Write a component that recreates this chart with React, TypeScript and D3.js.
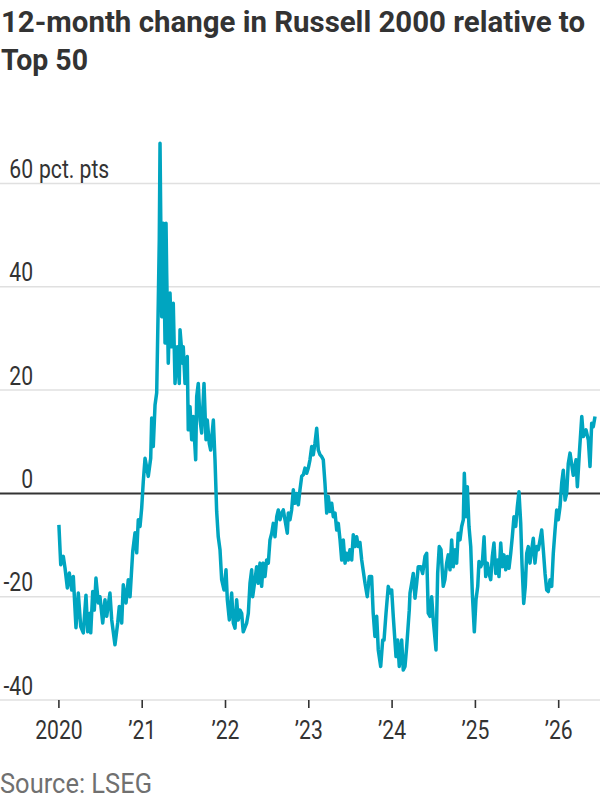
import React from "react";
import * as d3 from "d3";

const titleLines = ["12-month change in Russell 2000 relative to", "Top 50"];
const titleWidths = [584, 87];
const yTicks = [60, 40, 20, 0, -20, -40];
const yUnit = "pct. pts";
const xTicks = [2020, 2021, 2022, 2023, 2024, 2025, 2026];
const xTickLabels = ["2020", "’21", "’22", "’23", "’24", "’25", "’26"];
const sourceNote = "Source: LSEG";

// [decimal year, pct. pts]
const s2020 = [
  [2020.0, -6.1], [2020.022, -13.8], [2020.053, -12.2], [2020.073, -14.4], [2020.101, -18.3],
  [2020.125, -15.4], [2020.154, -18.7], [2020.173, -16.1], [2020.205, -26.0], [2020.233, -19.3],
  [2020.262, -25.8], [2020.293, -27.0], [2020.325, -19.7], [2020.346, -26.8], [2020.373, -23.2],
  [2020.382, -27.0], [2020.406, -19.0], [2020.425, -22.6], [2020.445, -16.4], [2020.473, -21.2],
  [2020.493, -20.0], [2020.526, -25.1], [2020.553, -20.6], [2020.574, -23.8], [2020.613, -19.3],
  [2020.634, -24.5], [2020.673, -29.3], [2020.706, -25.1], [2020.725, -21.9], [2020.754, -25.1],
  [2020.773, -17.7], [2020.806, -21.2], [2020.833, -16.7], [2020.854, -20.0], [2020.886, -11.3],
  [2020.914, -7.6], [2020.934, -11.5], [2020.953, -5.1], [2020.974, -6.4], [2020.994, -2.8],
];
const s2021 = [
  [2021.013, 2.3], [2021.034, 6.8], [2021.073, 3.3], [2021.102, 6.8], [2021.114, 14.6],
  [2021.133, 9.1], [2021.154, 17.1], [2021.174, 19.5], [2021.193, 36.9], [2021.205, 49.1],
  [2021.214, 67.8], [2021.234, 34.2], [2021.253, 52.3], [2021.274, 29.1], [2021.286, 52.3],
  [2021.294, 42.6], [2021.313, 25.2], [2021.334, 38.8], [2021.354, 28.4], [2021.373, 36.8],
  [2021.394, 21.3], [2021.421, 28.4], [2021.445, 21.3], [2021.454, 31.7], [2021.486, 25.2],
  [2021.493, 28.4], [2021.514, 21.3], [2021.541, 26.5], [2021.553, 12.3], [2021.574, 16.8],
  [2021.594, 10.4], [2021.613, 14.9], [2021.642, 6.5], [2021.654, 18.7], [2021.673, 21.3],
  [2021.694, 14.2], [2021.714, 11.7], [2021.742, 21.3], [2021.766, 10.4], [2021.781, 14.2],
  [2021.805, 9.7], [2021.822, 8.4], [2021.854, 14.2], [2021.874, 6.5], [2021.894, -3.5],
  [2021.913, -8.4], [2021.934, -10.9], [2021.954, -16.7], [2021.982, -18.7],
];
const s2022 = [
  [2022.006, -14.8], [2022.022, -20.6], [2022.046, -24.5], [2022.074, -19.3], [2022.094, -25.1],
  [2022.114, -26.1], [2022.134, -20.6], [2022.153, -24.5], [2022.174, -22.6], [2022.194, -23.2],
  [2022.213, -26.8], [2022.254, -25.1], [2022.274, -23.2], [2022.294, -17.4], [2022.314, -14.8],
  [2022.326, -20.0], [2022.354, -16.7], [2022.374, -14.2], [2022.393, -17.4], [2022.414, -13.5],
  [2022.434, -18.0], [2022.453, -13.5], [2022.474, -16.1], [2022.494, -12.9], [2022.514, -13.5],
  [2022.534, -9.0], [2022.555, -7.7], [2022.574, -5.8], [2022.594, -8.4], [2022.615, -4.5],
  [2022.634, -3.2], [2022.654, -5.1], [2022.675, -3.8], [2022.694, -3.2], [2022.714, -5.1],
  [2022.742, -7.7], [2022.754, -3.8], [2022.774, -5.1], [2022.794, -3.2], [2022.814, 0.7],
  [2022.834, -1.9], [2022.855, 0.0], [2022.874, -2.2], [2022.894, 0.7], [2022.915, 3.3],
  [2022.934, 3.6], [2022.954, 4.9], [2022.975, 3.9], [2022.994, 4.9],
];
const s2023 = [
  [2023.014, 6.5], [2023.035, 9.1], [2023.054, 7.5], [2023.074, 9.7], [2023.095, 12.6],
  [2023.114, 8.4], [2023.134, 7.5], [2023.155, 7.1], [2023.174, 6.5], [2023.194, 2.0],
  [2023.215, -3.8], [2023.234, -0.6], [2023.255, -3.5], [2023.275, -1.9], [2023.294, -4.5],
  [2023.315, -3.8], [2023.335, -7.1], [2023.354, -5.8], [2023.375, -9.0], [2023.395, -12.9],
  [2023.414, -9.0], [2023.435, -13.5], [2023.455, -11.6], [2023.474, -12.9], [2023.494, -10.9],
  [2023.515, -12.9], [2023.534, -8.0], [2023.554, -10.3], [2023.575, -8.4], [2023.594, -10.3],
  [2023.614, -9.5], [2023.635, -12.9], [2023.675, -17.4], [2023.702, -20.0], [2023.726, -16.1],
  [2023.754, -16.1], [2023.773, -23.2], [2023.794, -27.7], [2023.815, -23.8], [2023.834, -30.3],
  [2023.863, -33.5], [2023.887, -28.4], [2023.903, -28.4], [2023.927, -23.2], [2023.954, -18.0],
  [2023.975, -19.3], [2023.995, -18.7],
];
const s2024 = [
  [2024.014, -23.8], [2024.047, -31.6], [2024.067, -28.4], [2024.086, -33.5], [2024.115, -28.4],
  [2024.134, -34.2], [2024.155, -33.5], [2024.175, -29.7], [2024.206, -22.6], [2024.215, -19.3],
  [2024.235, -17.4], [2024.254, -15.5], [2024.275, -20.3], [2024.295, -17.4], [2024.314, -14.2],
  [2024.343, -14.2], [2024.367, -15.5], [2024.395, -12.2], [2024.415, -11.6], [2024.434, -23.2],
  [2024.455, -23.8], [2024.475, -20.0], [2024.494, -24.5], [2024.527, -30.3], [2024.547, -15.5],
  [2024.566, -10.3], [2024.587, -10.9], [2024.614, -18.0], [2024.634, -16.7], [2024.655, -13.5],
  [2024.674, -11.9], [2024.695, -14.8], [2024.715, -9.0], [2024.734, -14.2], [2024.755, -10.9],
  [2024.775, -13.5], [2024.794, -7.7], [2024.815, -9.0], [2024.835, -6.4], [2024.855, -5.1],
  [2024.867, 3.9], [2024.887, -4.5], [2024.903, 1.3], [2024.923, -6.4], [2024.944, -10.3],
  [2024.963, -19.3], [2024.987, -26.8],
];
const s2025 = [
  [2025.007, -20.6], [2025.028, -18.0], [2025.043, -13.2], [2025.064, -14.2], [2025.083, -13.5],
  [2025.104, -8.4], [2025.124, -16.1], [2025.143, -13.5], [2025.163, -15.5], [2025.184, -16.7],
  [2025.203, -12.2], [2025.223, -9.6], [2025.244, -15.5], [2025.263, -12.9], [2025.283, -16.1],
  [2025.304, -9.6], [2025.323, -14.2], [2025.343, -11.9], [2025.364, -14.8], [2025.383, -12.2],
  [2025.403, -14.5], [2025.424, -11.6], [2025.443, -8.4], [2025.463, -4.5], [2025.484, -6.4],
  [2025.503, -2.6], [2025.523, 0.3], [2025.544, -5.8], [2025.559, -13.5], [2025.58, -21.3],
  [2025.599, -18.0], [2025.616, -11.6], [2025.635, -10.3], [2025.655, -13.5], [2025.676, -10.9],
  [2025.695, -8.7], [2025.715, -13.5], [2025.736, -10.3], [2025.755, -10.9], [2025.776, -9.0],
  [2025.796, -7.1], [2025.815, -10.9], [2025.836, -15.5], [2025.856, -18.7], [2025.875, -19.0],
  [2025.896, -16.7], [2025.916, -18.0], [2025.935, -11.6], [2025.956, -7.1], [2025.976, -3.2],
  [2025.995, -5.1],
];
const s2026 = [
  [2026.016, -2.6], [2026.036, 2.0], [2026.055, 4.5], [2026.076, -1.3], [2026.096, 0.0],
  [2026.115, 5.8], [2026.136, 7.8], [2026.175, 3.5], [2026.208, 6.5], [2026.224, 1.3],
  [2026.248, 7.8], [2026.277, 14.9], [2026.296, 11.0], [2026.328, 12.3], [2026.356, 10.3],
  [2026.376, 5.2], [2026.396, 13.6], [2026.415, 12.9], [2026.436, 14.9],
];

const series = [...s2020, ...s2021, ...s2022, ...s2023, ...s2024, ...s2025, ...s2026];

const W = 600;
const H = 800;
const font = "Roboto, 'Liberation Sans', sans-serif";
const narrow = 0.845; // horizontal squeeze to mimic the condensed chart face

export default function App() {
  const x = d3.scaleLinear().domain([2020, 2026]).range([58.9, 558.7]);
  const y = d3.scaleLinear().domain([-40, 60]).range([700, 183.5]);

  const line = d3
    .line<number[]>()
    .x((d) => x(d[0]))
    .y((d) => y(d[1]));

  return (
    <svg
      width={W}
      height={H}
      style={{ position: "absolute", left: 0, top: 0, background: "#fff" }}
      fontFamily={font}
    >
      {titleLines.map((t, i) => (
        <text
          key={t}
          x={1}
          y={32 + i * 38}
          fontSize={30}
          fontWeight={700}
          fill="#333"
          textLength={titleWidths[i]}
          lengthAdjust="spacingAndGlyphs"
        >
          {t}
        </text>
      ))}

      {yTicks.map((v) => (
        <line
          key={"g" + v}
          x1={0}
          x2={W}
          y1={y(v)}
          y2={y(v)}
          stroke={v === 0 ? "#333" : "#e0e0e0"}
          strokeWidth={v === 0 ? 2 : 1.5}
        />
      ))}
      {yTicks.map((v) => (
        <text
          key={"l" + v}
          transform={`translate(33,${y(v) - 5.5}) scale(${narrow},1)`}
          textAnchor="end"
          fontSize={25}
          fill="#333"
        >
          {v}
        </text>
      ))}
      <text transform={`translate(39,${y(60) - 5.5}) scale(${narrow},1)`} fontSize={25} fill="#333">
        {yUnit}
      </text>

      {xTicks.map((t, i) => (
        <g key={t} transform={`translate(${x(t)},0)`}>
          <line y1={700} y2={708} stroke="#333" strokeWidth={1.6} />
          <text
            transform={`translate(0,739) scale(${narrow},1)`}
            textAnchor="middle"
            fontSize={25}
            fill="#333"
          >
            {xTickLabels[i]}
          </text>
        </g>
      ))}

      <path
        d={line(series) ?? ""}
        fill="none"
        stroke="#00a5c0"
        strokeWidth={3.5}
        strokeLinejoin="round"
      />

      <text
        x={0}
        y={793}
        fontSize={27}
        fill="#707070"
        textLength={152}
        lengthAdjust="spacingAndGlyphs"
      >
        {sourceNote}
      </text>
    </svg>
  );
}
